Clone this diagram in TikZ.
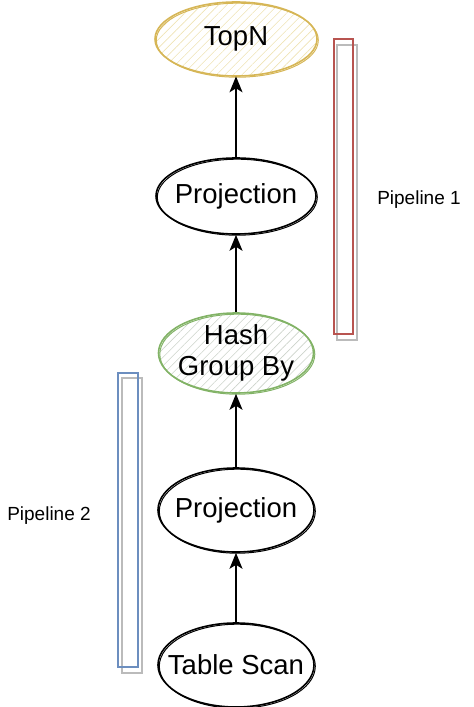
\documentclass[tikz,border=0pt]{standalone}
\usepackage{fontspec}
\setmainfont{Liberation Sans}
\usepackage{tikz}
\usetikzlibrary{arrows.meta}
\usetikzlibrary{patterns.meta}
\usetikzlibrary{shapes.geometric}

\definecolor{topnline}{HTML}{D6B656}
\definecolor{topnhatch}{HTML}{EFE3B4}
\definecolor{hashline}{HTML}{82B366}
\definecolor{hashhatch}{HTML}{CCD3CA}
\definecolor{pipered}{HTML}{B85450}
\definecolor{pipeblue}{HTML}{6C8EBF}
\definecolor{pipeshadow}{HTML}{BBBBBB}

\tikzset{
    opnode/.style={ellipse, draw=black, line width=1.6pt,
        inner xsep=-16pt, inner ysep=-6pt,
        minimum width=158pt, minimum height=80pt, align=center,
        font=\fontsize{27.5}{31}\selectfont,
        postaction={draw, line width=1pt, transform canvas={xshift=1.3pt,yshift=-1.2pt}}},
    hatched/.style={pattern={Lines[angle=45,distance=6pt,line width=0.6pt]},
        pattern color=#1},
    flow/.style={line width=1.6pt, -{Stealth[length=16pt,width=13pt,inset=4pt]}},
    pipebar/.style={line width=1.6pt, draw=#1},
    pipelabel/.style={font=\fontsize{19}{22}\selectfont}
}

\begin{document}
\begin{tikzpicture}[x=1pt,y=-1pt]
        \useasboundingbox (0,0) rectangle (474,707);

        % pipelines
        \draw[pipebar=pipeshadow] (337,45) rectangle (357,340);
        \draw[pipebar=pipered] (334,39) rectangle (353,334);
        \draw[pipebar=pipeshadow] (122,378) rectangle (142,673);
        \draw[pipebar=pipeblue] (118,373) rectangle (138,667);

        \node[pipelabel] (pipe1) at (419,200) {Pipeline 1};
        \node[pipelabel] (pipe2) at (49,516) {Pipeline 2};

        % operators
        \node[opnode, draw=topnline, hatched=topnhatch, minimum width=162pt, minimum height=74pt] (topn) at (236,39) {TopN};
        \node[opnode, minimum width=160pt, minimum height=76pt] (proj1) at (236,196) {Projection};
        \node[opnode, draw=hashline, hatched=hashhatch, minimum width=155pt] (hash) at (236,353) {Hash\\Group By};
        \node[opnode, minimum width=156pt, minimum height=84pt] (proj2) at (236,510) {Projection};
        \node[opnode, minimum width=156pt, minimum height=84pt] (scan) at (236,665) {Table Scan};

        % flow
        \draw[flow] (scan.north) -- (proj2.south);
        \draw[flow] (proj2.north) -- (hash.south);
        \draw[flow] (hash.north) -- (proj1.south);
        \draw[flow] (proj1.north) -- (topn.south);

    \end{tikzpicture}
\end{document}
